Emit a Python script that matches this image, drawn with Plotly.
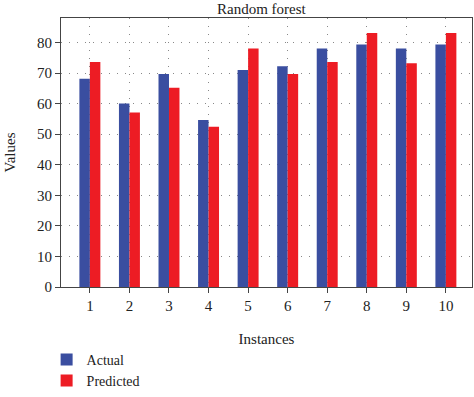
import plotly.graph_objects as go

instances = [1, 2, 3, 4, 5, 6, 7, 8, 9, 10]
actual = [68.1, 60.0, 69.7, 54.6, 71.0, 72.2, 78.0, 79.3, 78.0, 79.3]
predicted = [73.6, 57.1, 65.2, 52.4, 78.0, 69.7, 73.6, 83.1, 73.2, 83.1]
y_ticks = [0, 10, 20, 30, 40, 50, 60, 70, 80]

font = "Liberation Serif"

fig = go.Figure()
fig.add_trace(go.Bar(x=instances, y=actual, name="Actual", marker_color="#3a4ea0", marker_line_width=0))
fig.add_trace(go.Bar(x=instances, y=predicted, name="Predicted", marker_color="#ed1c24", marker_line_width=0))

fig.update_layout(
    width=474, height=397,
    margin=dict(l=61, r=2, t=18, b=109),
    paper_bgcolor="white", plot_bgcolor="white",
    barmode="group", bargap=0.47, bargroupgap=0,
    font=dict(family=font, size=15, color="#222"),
    legend=dict(orientation="v", x=-0.035, xanchor="left", y=-0.403, yanchor="bottom",
                font=dict(family=font, size=14, color="#222"), tracegroupgap=0, itemwidth=30),
    showlegend=True,
)
fig.add_annotation(text="Random forest", xref="paper", yref="paper", x=0.49, y=1.035,
                   xanchor="center", yanchor="middle", showarrow=False,
                   font=dict(family=font, size=15, color="#222"))
fig.update_xaxes(
    range=[0.27, 10.66], tickvals=instances, ticktext=[str(i) for i in instances],
    showline=True, linecolor="#444", linewidth=1, mirror=True,
    ticks="outside", ticklen=5, tickcolor="#444",
    showgrid=True, gridcolor="#888", griddash="1px,7px", gridwidth=1,
    zeroline=False,
    title=dict(text="Instances", standoff=20, font=dict(family=font, size=15)),
)
fig.update_yaxes(
    range=[0, 88], tickvals=y_ticks,
    showline=True, linecolor="#444", linewidth=1, mirror=True,
    ticks="outside", ticklen=5, tickcolor="#444",
    showgrid=True, gridcolor="#888", griddash="1px,7px", gridwidth=1,
    zeroline=False,
    title=dict(text="Values", standoff=17, font=dict(family=font, size=15)),
)

fig.write_html("out.html", config={"displayModeBar": False},
               post_script="document.body.style.margin='0';")
